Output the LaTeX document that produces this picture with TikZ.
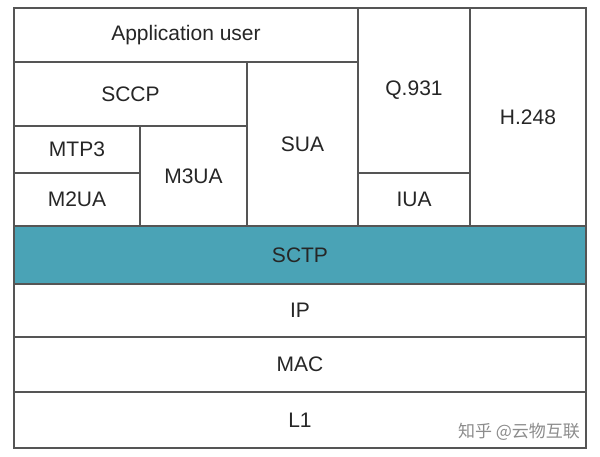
\documentclass[tikz,border=0pt]{standalone}
\usepackage{fontspec}
\setmainfont{Liberation Sans}
\newfontfamily\cjk{Noto Sans CJK SC}
\definecolor{teal1}{HTML}{4AA3B6}
\definecolor{bord}{HTML}{555555}
\begin{document}
\begin{tikzpicture}[x=1pt,y=-1pt,
  cell/.style={draw=bord,line width=1.3pt},
  lab/.style={font=\fontsize{21}{23}\selectfont,text=black!85}]
\useasboundingbox (0,0) rectangle (600,456);
\fill[white] (0,0) rectangle (600,456);
\newcommand\cellbox[6]{\draw[cell,fill=#6] (#1,#2) rectangle (#3,#4); \node[lab] (#5) at ({(#1+#3)/2},{(#2+#4)/2}) {\csname lbl#5\endcsname};}
\def\lblapp{Application user}\def\lblsccp{SCCP}\def\lblmtp{MTP3}\def\lblmtwo{M2UA}
\def\lblmthree{M3UA}\def\lblsua{SUA}\def\lblq{Q.931}\def\lbliua{IUA}\def\lblh{H.248}
\def\lblsctp{SCTP}\def\lblip{IP}\def\lblmac{MAC}\def\lblla{L1}
\cellbox{14}{8}{358}{62}{app}{white}
\cellbox{14}{62}{247}{126}{sccp}{white}
\cellbox{14}{126}{140}{173}{mtp}{white}
\cellbox{14}{173}{140}{226}{mtwo}{white}
\cellbox{140}{126}{247}{226}{mthree}{white}
\cellbox{247}{62}{358}{226}{sua}{white}
\cellbox{358}{8}{470}{173}{q}{white}
\cellbox{358}{173}{470}{226}{iua}{white}
\cellbox{470}{8}{586}{226}{h}{white}
\cellbox{14}{226}{586}{284}{sctp}{teal1}
\cellbox{14}{284}{586}{337}{ip}{white}
\cellbox{14}{337}{586}{392}{mac}{white}
\cellbox{14}{392}{586}{448}{la}{white}
\node[font=\cjk\fontsize{17}{19}\selectfont,text=black!45] (wm) at (519,432) {知乎 @云物互联};
\end{tikzpicture}
\end{document}
